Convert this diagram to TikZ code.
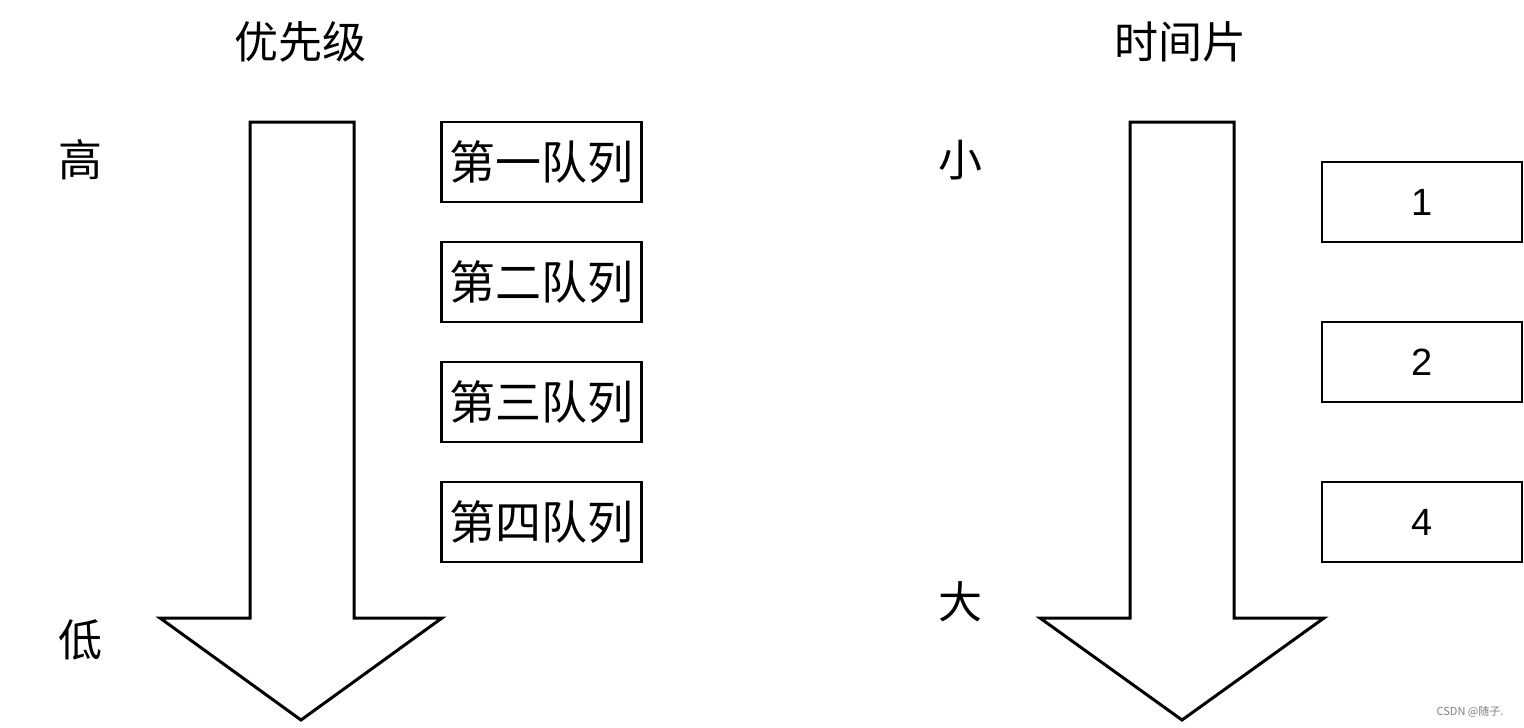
\documentclass[tikz,border=0pt]{standalone}
\usepackage{fontspec}
\setmainfont{Liberation Sans}
\newfontfamily\cjk{Noto Sans CJK SC}
\begin{document}
\begin{tikzpicture}[x=1pt,y=-1pt,
  arr/.style={draw=black,line width=3pt,fill=white,line join=miter},
  qbox/.style={draw=black,line width=2.5pt,minimum width=200pt,minimum height=80pt,inner sep=0pt,font=\cjk\fontsize{46}{46}\selectfont},
  nbox/.style={draw=black,line width=2.5pt,minimum width=200pt,minimum height=80pt,inner sep=0pt,font=\fontsize{38}{38}\selectfont},
  lab/.style={font=\cjk\fontsize{44}{44}\selectfont,inner sep=0pt}]
\useasboundingbox (0,0) rectangle (1524,728);
\draw[arr] (250,122) -- (354,122) -- (354,618) -- (442,618) -- (301,720) -- (160,618) -- (250,618) -- cycle;
\draw[arr] (1130,122) -- (1234,122) -- (1234,618) -- (1324,618) -- (1182,720) -- (1040,618) -- (1130,618) -- cycle;
\node[lab] (t1) at (300,42) {优先级};
\node[lab] (t2) at (1180,42) {时间片};
\node[lab] (hi) at (80,160) {高};
\node[lab] (lo) at (80,640) {低};
\node[lab] (sm) at (960,160) {小};
\node[lab] (bg) at (960,602) {大};
\node[qbox] (q1) at (541.5,162) {第一队列};
\node[qbox] (q2) at (541.5,282) {第二队列};
\node[qbox] (q3) at (541.5,402) {第三队列};
\node[qbox] (q4) at (541.5,522) {第四队列};
\node[nbox] (n1) at (1422,202) {1};
\node[nbox] (n2) at (1422,362) {2};
\node[nbox] (n4) at (1422,522) {4};
\node[font=\cjk\fontsize{11}{11}\selectfont,text=gray,inner sep=0pt] (wm) at (1470,712) {CSDN @随子.};
\end{tikzpicture}
\end{document}
